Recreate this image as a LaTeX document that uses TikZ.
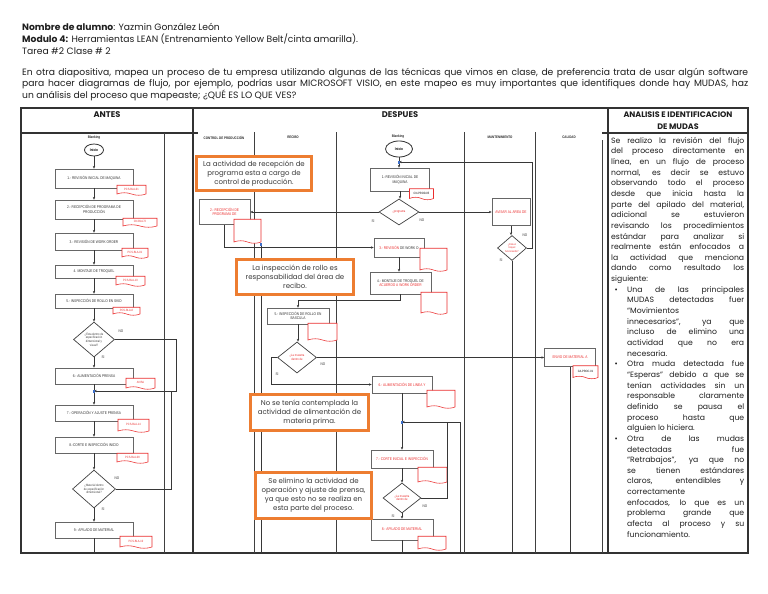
\documentclass[tikz,border=0pt]{standalone}
\usepackage{fontspec}
\setmainfont{Poppins}
\newfontfamily\flowfont[FakeStretch=0.82]{Liberation Sans}
\usetikzlibrary{shapes.geometric,shapes.symbols,arrows.meta}
\definecolor{orng}{RGB}{237,125,49}
\definecolor{rd}{RGB}{235,45,45}
\definecolor{lnc}{RGB}{55,55,55}
\definecolor{txt}{RGB}{30,30,30}
\definecolor{mkb}{RGB}{60,110,200}
\newcommand{\bulpar}{\hangindent=16pt\hangafter=1\noindent\hbox to 16pt{\hskip3.5pt\textbullet\hss}}
\begin{document}
\begin{tikzpicture}[x=1pt,y=-1pt,
 tbl/.style={draw=black!80, line width=1.1pt},
 lanel/.style={draw=black!75, line width=0.9pt},
 proc/.style={rectangle, draw=black!60, line width=0.6pt, fill=white, inner sep=0.5pt, align=center, font=\flowfont\fontsize{3.9}{4.6}\selectfont, text=black!80},
 rproc/.style={proc, text=rd},
 dtag/.style={tape, tape bend top=none, tape bend bottom=out and in, tape bend height=2.5pt, draw=rd, line width=0.55pt, fill=white, inner sep=0.3pt, font=\flowfont\fontsize{3.1}{3.4}\selectfont, text=rd},
 dec/.style={diamond, draw=black!75, line width=0.7pt, fill=white, inner sep=0pt},
 dectext/.style={font=\flowfont\fontsize{3.2}{3.7}\selectfont, align=center, inner sep=0},
 startnd/.style={ellipse, draw=black!80, line width=0.8pt, fill=white, inner sep=0, font=\flowfont\bfseries\fontsize{3.8}{4.4}\selectfont},
 lanelbl/.style={font=\flowfont\bfseries\fontsize{3.6}{4.4}\selectfont, text=black!85, inner sep=0},
 yn/.style={font=\flowfont\fontsize{3.8}{4.4}\selectfont, text=black!80, inner sep=0},
 flow/.style={draw=lnc, line width=0.75pt, -{Stealth[length=2.8pt,width=2.4pt]}},
 conn/.style={draw=lnc, line width=0.75pt},
 bluemk/.style={fill=mkb, minimum width=2.2pt, minimum height=3pt, inner sep=0},
 note/.style={rectangle, draw=orng, line width=2.6pt, fill=white, align=center, inner sep=0, font=\fontsize{7}{9}\selectfont, text=black!78},
 hdr/.style={font=\bfseries\fontsize{8.3}{10}\selectfont, text=txt, inner sep=0},
 htxt/.style={anchor=base west, inner sep=0, font=\fontsize{9.2}{10}\selectfont, text=txt},
]
\useasboundingbox (0,0) rectangle (768,594);
\fill[white] (0,0) rectangle (768,594);

% ---------- header text ----------
\node[htxt] (h1) at (22,31) {\textbf{Nombre de alumno}: Yazmin González León};
\node[htxt] (h2) at (22,43) {\textbf{Modulo 4:} Herramientas LEAN (Entrenamiento Yellow Belt/cinta amarilla).};
\node[htxt] (h3) at (22,54.5) {Tarea \#2 Clase \# 2};
\node[htxt] (p1) at (22,75) {\makebox[726pt][s]{En otra diapositiva, mapea un proceso de tu empresa utilizando algunas de las técnicas que vimos en clase, de preferencia trata de usar algún software}};
\node[htxt] (p2) at (22,86.5) {\makebox[726pt][s]{para hacer diagramas de flujo, por ejemplo, podrías usar MICROSOFT VISIO, en este mapeo es muy importantes que identifiques donde hay MUDAS, haz}};
\node[htxt] (p3) at (22,98) {un análisis del proceso que mapeaste; ¿QUÉ ES LO QUE VES?};

% ---------- table ----------
\draw[tbl] (21,108) rectangle (748,553);
\draw[tbl] (193,108) -- (193,553);
\draw[tbl] (608,108) -- (608,553);
\draw[tbl] (21,133) -- (198,133);
\draw[tbl] (602,133) -- (748,133);
\node[hdr] (tA) at (107,114.5) {ANTES};
\node[hdr] (tD) at (400,114.5) {DESPUES};
\node[hdr, align=center, font=\bfseries\fontsize{8}{12.5}\selectfont] (tR) at (678,120.5) {ANALISIS E IDENTIFICACION\\DE MUDAS};

% lanes
\draw[lanel] (164,133) -- (164,553);
\draw[lanel] (254,132) -- (254,553);
\draw[lanel] (336,132) -- (336,553);
\draw[lanel] (464,132) -- (464,553);
\draw[lanel] (535,132) -- (535,553);
\draw[lanel] (602,140) -- (602,553);

% ---------- ANTES flowchart ----------
\node[lanelbl] (aBl) at (94,137.5) {Blanking};
\node[startnd, minimum width=19pt, minimum height=12pt] (aIni) at (94,150) {Inicio};
\node[proc, minimum width=78pt, minimum height=19pt] (a1) at (94,178.5) {1.- REVISIÓN INICIAL DE MAQUINA};
\node[dtag, minimum width=29pt, minimum height=10pt] (a1t) at (131.5,189) {PCS-BLA-01};
\node[proc, minimum width=78pt, minimum height=19pt] (a2) at (94,209.5) {2.- RECEPCIÓN DE PROGRAMA DE\\PRODUCCIÓN};
\node[dtag, minimum width=34pt, minimum height=9pt] (a2t) at (140,221.5) {CN-BAI-72};
\node[proc, minimum width=78pt, minimum height=17pt] (a3) at (94,241.5) {3.- REVISIÓN DE WORK ORDER};
\node[dtag, minimum width=26pt, minimum height=10pt] (a3t) at (135,252) {PCS-BLA-01};
\node[proc, minimum width=78pt, minimum height=13pt] (a4) at (94,271.5) {4. MONTAJE DE TROQUEL};
\node[dtag, minimum width=29pt, minimum height=10pt] (a4t) at (130.5,280) {PCS-BLA-10};
\node[proc, minimum width=78pt, minimum height=14pt] (a5) at (94,301) {5.- INSPECCIÓN DE ROLLO EN SKID};
\node[dtag, minimum width=27pt, minimum height=8pt] (a5t) at (126.5,310) {PCS-BLA-8};
\node[dec, minimum width=41pt, minimum height=35pt, label={[dectext,text=black!75]center:{¿Esta dentro de\\especificación\\dimensional y\\visual?}}] (ad1) at (94,339.5) {};
\node[yn] (aNO1) at (121,331) {NO};
\node[yn] (aSI1) at (103,357) {SI};
\node[proc, minimum width=78pt, minimum height=16pt] (a6) at (94,376) {6.- ALIMENTACIÓN PRENSA};
\node[dtag, minimum width=29pt, minimum height=11pt] (a6t) at (140.5,382.5) {AVISA};
\node[proc, minimum width=78pt, minimum height=16pt] (a7) at (94,413) {7.- OPERACIÓN Y AJUSTE PRENSA};
\node[dtag, minimum width=31pt, minimum height=13pt] (a7t) at (133.5,424.5) {PCS-BLA-14};
\node[proc, minimum width=78pt, minimum height=16pt] (a8) at (94,445) {8.-CORTE E INSPECCIÓN INICIO};
\node[dtag, minimum width=31pt, minimum height=10pt] (a8t) at (132.5,457) {PCS-BLA-08};
\node[dec, minimum width=43pt, minimum height=38pt, label={[dectext,text=black!75]center:{¿Material dentro\\de especificación\\dimensional?}}] (ad2) at (94,489) {};
\node[yn] (aNO2) at (117,478) {NO};
\node[yn] (aSI2) at (103,509) {SI};
\node[proc, minimum width=78pt, minimum height=16pt] (a9) at (94,530) {9.- APILADO DE MATERIAL};
\node[dtag, minimum width=32pt, minimum height=12pt] (a9t) at (136,541) {PCS-BLA-10};

\foreach \s/\t in {aIni/a1,a1/a2,a2/a3,a3/a4,a4/a5,a5/ad1,ad1/a6,a6/a7,a7/a8,a8/ad2,ad2/a9}
  \draw[flow] (\s.south) -- (\s.south |- \t.north);
\coordinate (aJ) at (94,391);
\coordinate (aR1) at (176,391);
\coordinate (aR2) at (171,391);
\coordinate (aB) at (94,553);
\draw[flow] (ad1.east) -| (aR1) -- (aJ);
\draw[conn] (ad2.east) -| (aR2);
\draw[conn] (a9.south) -- (aB);
\node[bluemk] (mkA) at (aJ) {};

% ---------- DESPUES flowchart ----------
\node[lanelbl] (lCP) at (224,137.5) {CONTROL DE PRODUCCIÓN};
\node[lanelbl] (lRE) at (293,137.5) {RECIBO};
\node[lanelbl] (lBL) at (398,136.5) {Blanking};
\node[lanelbl] (lMA) at (500,137.5) {MANTENIMIENTO};
\node[lanelbl] (lCA) at (569,137.5) {CALIDAD};
\node[startnd, minimum width=27pt, minimum height=16pt] (dIni) at (399,149) {Inicio};
\node[proc, minimum width=59pt, minimum height=23pt] (d1) at (400,179.5) {1.-REVISIÓN INICIAL DE\\MAQUINA};
\node[dtag, minimum width=24pt, minimum height=11pt, text=black] (d1t) at (421.5,193) {CN-PROD-05};
\node[dec, minimum width=40pt, minimum height=26pt, label={[dectext,text=rd]center:{¿programa}}] (dd1) at (399,212) {};
\node[yn] (dSI1) at (373,221) {SI};
\node[yn] (dNO1) at (422,220.5) {NO};
\node[rproc, minimum width=51pt, minimum height=25pt] (d2) at (224.5,212) {2.- RECEPCIÓN DE\\PROGRAMA DE};
\node[dtag, minimum width=27pt, minimum height=24pt] (d2t) at (247.5,230) {};
\node[proc, minimum width=50pt, minimum height=19pt] (d3) at (399,247.5) {\textcolor{rd}{3.- REVISIÓN} DE WORK O};
\node[dtag, minimum width=27pt, minimum height=23pt] (d3t) at (433.5,258.5) {};
\node[proc, minimum width=61pt, minimum height=22pt] (d4) at (400.5,283) {4.- MONTAJE DE TROQUEL DE\\\textcolor{rd}{ACUERDO A WORK ORDER}};
\node[dtag, minimum width=26pt, minimum height=22pt] (d4t) at (434,302) {};
\node[proc, minimum width=62pt, minimum height=16pt] (d5) at (298,316) {5.- INSPECCIÓN DE ROLLO EN\\BASCULA};
\node[dtag, minimum width=29pt, minimum height=18pt] (d5t) at (322.5,331) {};
\node[dec, minimum width=39pt, minimum height=31pt, label={[dectext,text=rd]center:{¿La muestra\\dentro de}}] (dd2) at (297,357.5) {};
\node[yn] (dSI2) at (277,374) {SI};
\node[yn] (dNO2) at (323,364) {NO};
\node[rproc, minimum width=51pt, minimum height=18pt] (d9) at (570,357.5) {ENVIO DE MATERIAL A};
\node[dtag, minimum width=25pt, minimum height=13pt, text=black] (d9t) at (585.5,371) {CA-PROC-01};
\node[rproc, minimum width=60pt, minimum height=17pt] (d6) at (402,384.5) {6.- ALIMENTACIÓN DE LINEA Y};
\node[dtag, minimum width=28pt, minimum height=18pt] (d6t) at (441,398) {};
\node[rproc, minimum width=62pt, minimum height=18pt] (d7) at (402,459) {7.- CORTE INICIAL E INSPECCIÓN};
\node[dtag, minimum width=29pt, minimum height=16pt] (d7t) at (432.5,474) {};
\node[dec, minimum width=38pt, minimum height=30pt, label={[dectext,text=rd]center:{¿La muestra\\dentro de}}] (dd3) at (402,498) {};
\node[yn] (dNO3) at (425,506) {NO};
\node[yn] (dSI3) at (393,516) {SI};
\node[rproc, minimum width=62pt, minimum height=21pt] (d8) at (402,529.5) {8.- APILADO DE MATERIAL};
\node[dtag, minimum width=28pt, minimum height=14pt] (d8t) at (432,542) {};
\node[rproc, minimum width=38pt, minimum height=27pt] (dAv) at (511,212) {AVISAR AL AREA DE};
\node[dec, minimum width=29pt, minimum height=25pt, label={[dectext,text=rd,font=\flowfont\fontsize{2.7}{3.1}\selectfont]center:{¿Esta el\\troquel\\funcionando?}}] (ddM) at (512,248) {};
\node[yn] (dNOM) at (525,235) {NO};
\node[yn] (dSIM) at (501,260) {SI};

\foreach \s/\t in {dIni/d1,d1/dd1,d3/d4,d5/dd2,d6/d7,d7/dd3,dd3/d8,dAv/ddM}
  \draw[flow] (\s.south) -- (\s.south |- \t.north);
\draw[flow] (dd1.west) -- (dd1.west -| d2.east);
\draw[flow] (dd1.east) -- (dd1.east -| dAv.west);
\coordinate (jD1) at (399,162);
\coordinate (cM) at (532,162);
\draw[flow] (ddM.east) -| (cM) -- (jD1);
\draw[flow] (d2.south) |- (d3.west);
\draw[flow] (d4.south) -- ++(0,6) -| (d5.north);
\draw[flow] (dd2.east) -- (dd2.east -| d9.west);
\draw[flow] (dd2.west) -- ++(-6,0) |- (d6.west);
\coordinate (jD2) at (402,422);
\coordinate (cR) at (447,422);
\draw[flow] (dd3.east) -| (cR) -- (jD2);
\coordinate (b460) at (460,553);
\draw[conn] (b460) |- (jD2);
\coordinate (b261) at (261,553);
\coordinate (t261) at (261,244);
\draw[conn] (b261) -- (t261);
\coordinate (b512) at (512,553);
\draw[conn] (ddM.south) -- (b512);
\draw[conn] (d8.south) -- (d8.south |- b512);
\draw[conn] (d9.south) -- (d9.south |- b512);
\node[bluemk] (mkD1) at (jD1) {};
\node[bluemk] (mkD2) at (jD2) {};
\node[bluemk] (mkD3) at (t261) {};

% ---------- orange notes ----------
\node[note, minimum width=115.4pt, minimum height=34.4pt] (n1) at (254,173.5) {La actividad de recepción de\\programa esta a cargo de\\control de producción.};
\node[note, minimum width=117.4pt, minimum height=35.4pt] (n2) at (295,277) {La inspección de rollo es\\responsabilidad del área de\\recibo.};
\node[note, minimum width=118.4pt, minimum height=36.4pt] (n3) at (309.5,412.5) {No se tenía contemplada la\\actividad de alimentación de\\materia prima.};
\node[note, minimum width=116.4pt, minimum height=46.4pt] (n4) at (313.5,495.5) {Se elimino la actividad de\\operación y ajuste de prensa,\\ya que esto no se realiza en\\esta parte del proceso.};

% ---------- analysis text ----------
\node[anchor=north west, inner sep=0, text width=133pt, align=justify, font=\fontsize{7.7}{10.65}\selectfont, text=txt] (rtext) at (611,135.5) {\parindent=0pt\hyphenpenalty=10000\exhyphenpenalty=10000\tolerance=10000\strut
Se realizo la revisión del flujo\linebreak del proceso directamente en\linebreak línea, en un flujo de proceso\linebreak normal, es decir se estuvo\linebreak observando todo el proceso\linebreak desde que inicia hasta la\linebreak parte del apilado del material,\linebreak adicional se estuvieron\linebreak revisando los procedimientos\linebreak estándar para analizar si\linebreak realmente están enfocados a\linebreak la actividad que menciona\linebreak dando como resultado los\linebreak siguiente:\par
\bulpar Una de las principales\linebreak MUDAS detectadas fuer\linebreak “Movimientos\newline innecesarios”, ya que\linebreak incluso de elimino una\linebreak actividad que no era\linebreak necesaria.\par
\bulpar Otra muda detectada fue\linebreak “Esperas” debido a que se\linebreak tenían actividades sin un\linebreak responsable claramente\linebreak definido se pausa el\linebreak proceso hasta que\linebreak alguien lo hiciera.\par
\bulpar Otra de las mudas\linebreak detectadas fue\linebreak “Retrabajos”, ya que no\linebreak se tienen estándares\linebreak claros, entendibles y\linebreak correctamente\newline enfocados, lo que es un\linebreak problema grande que\linebreak afecta al proceso y su\linebreak funcionamiento.\par};
\end{tikzpicture}
\end{document}
